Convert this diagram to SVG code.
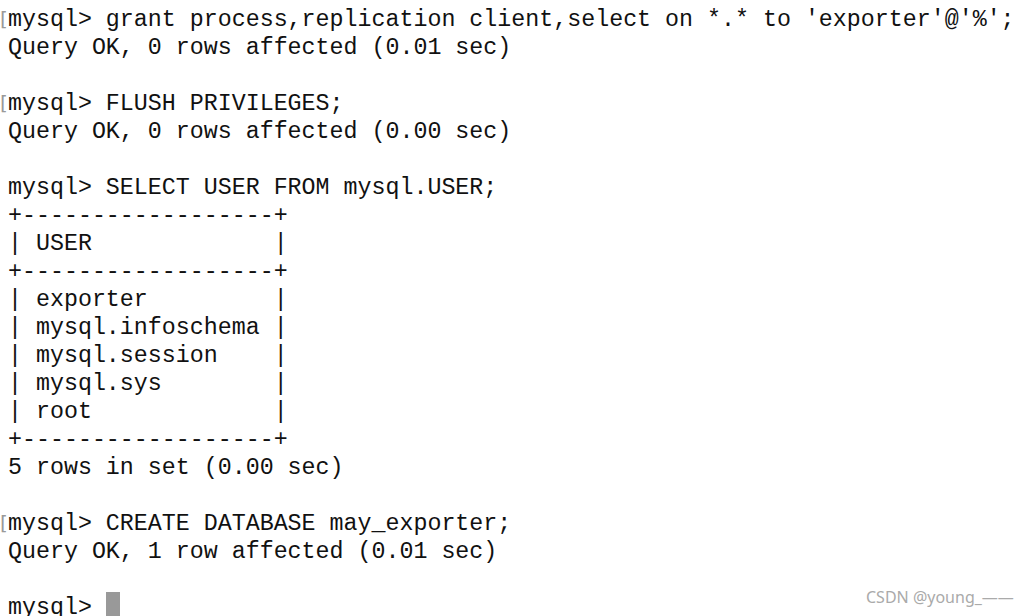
<svg xmlns="http://www.w3.org/2000/svg" width="1036" height="616" viewBox="0 0 1036 616">
<style>
.t{font-family:"Liberation Mono","DejaVu Sans Mono",monospace;font-size:23.3px;fill:#111;white-space:pre}
.b{font-family:"DejaVu Sans",sans-serif;font-size:20px;fill:#999}
.w{font-family:"Noto Sans","Liberation Sans",sans-serif;font-size:16px;fill:#aaa}
</style>
<rect width="1036" height="616" fill="#fff"/>
<g id="terminal">
<text class="b" x="0" y="26">[</text>
<text class="t" x="8" y="26">mysql&gt; grant process,replication client,select on *.* to 'exporter'@'%';</text>
<text class="t" x="8" y="54">Query OK, 0 rows affected (0.01 sec)</text>
<text class="b" x="0" y="110">[</text>
<text class="t" x="8" y="110">mysql&gt; FLUSH PRIVILEGES;</text>
<text class="t" x="8" y="138">Query OK, 0 rows affected (0.00 sec)</text>
<text class="t" x="8" y="194">mysql&gt; SELECT USER FROM mysql.USER;</text>
<text class="t" x="8" y="222">+------------------+</text>
<text class="t" x="8" y="250">| USER             |</text>
<text class="t" x="8" y="278">+------------------+</text>
<text class="t" x="8" y="306">| exporter         |</text>
<text class="t" x="8" y="334">| mysql.infoschema |</text>
<text class="t" x="8" y="362">| mysql.session    |</text>
<text class="t" x="8" y="390">| mysql.sys        |</text>
<text class="t" x="8" y="418">| root             |</text>
<text class="t" x="8" y="446">+------------------+</text>
<text class="t" x="8" y="474">5 rows in set (0.00 sec)</text>
<text class="b" x="0" y="530">[</text>
<text class="t" x="8" y="530">mysql&gt; CREATE DATABASE may_exporter;</text>
<text class="t" x="8" y="558">Query OK, 1 row affected (0.01 sec)</text>
<text class="t" x="8" y="614">mysql&gt;</text>
<rect x="106" y="592" width="14" height="24" fill="#999"/>
<text class="w" x="866" y="603">CSDN @young_——</text>
</g>
</svg>
